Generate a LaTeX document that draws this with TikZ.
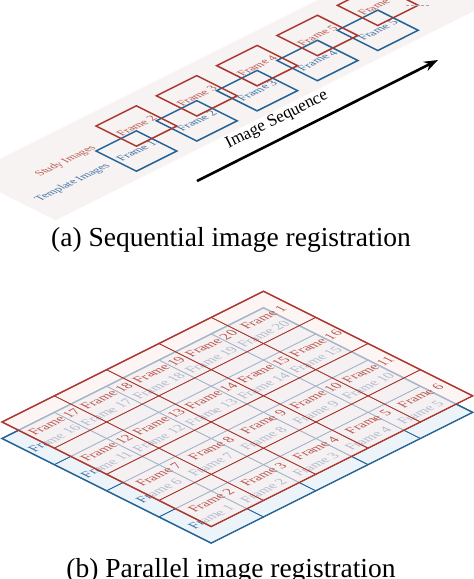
\documentclass[tikz,border=0pt]{standalone}
\usepackage{fontspec}
\setmainfont{Liberation Serif}
\usetikzlibrary{arrows.meta}
\definecolor{redline}{RGB}{168,56,48}
\definecolor{blueline}{RGB}{36,100,150}
\definecolor{redtext}{RGB}{184,82,72}
\definecolor{bluetext}{RGB}{58,108,160}
\definecolor{bandcol}{RGB}{247,243,243}
\definecolor{redfill}{RGB}{252,238,236}
\definecolor{bluefill}{RGB}{236,243,249}
\tikzset{
  framebox/.style={draw, line width=1.5pt, minimum size=45.2pt, inner sep=0pt,
    transform shape, font=\fontsize{12}{13}\selectfont},
  redframe/.style={framebox, draw=redline, text=redtext},
  blueframe/.style={framebox, draw=blueline, text=bluetext},
  sidelab/.style={transform shape, inner sep=0pt, anchor=west, font=\fontsize{11.5}{13}\selectfont},
  gridcell/.style={draw, line width=0.7pt, minimum size=58.5pt, inner sep=0pt,
    transform shape, font=\fontsize{13.8}{15}\selectfont},
  caption/.style={anchor=base, inner sep=0pt, font=\fontsize{27.5}{30}\selectfont},
  plane/.style={cm={0.894,0.447,-0.894,0.447,#1}}
}
\begin{document}
\begin{tikzpicture}[x=1pt,y=1pt]
\useasboundingbox (0,0) rectangle (474,-579);

% ---------- (a) sequential ----------
\begin{scope}[plane={(96,-151)}]
  \fill[bandcol] (-100,-55) rectangle (480,45);
  \foreach \k in {1,...,5}
    \node[blueframe] (b\k) at ({(\k-1)*67.5+22.6},-22.6) {Frame \k};
  \node[sidelab, text=bluetext] (tmpl) at (-88,-22.6) {Template Images};
\end{scope}
\begin{scope}[plane={(96,-126)}]
  \foreach \k in {2,...,6}
    \node[redframe] (r\k) at ({(\k-2)*67.5+22.6},-22.6) {Frame \k};
  \node[sidelab, text=redtext] (study) at (-88,-22.6) {Study Images};
\end{scope}
\coordinate (dotA) at (406,-5);
\coordinate (dotB) at (429,-5);
\draw[gray!70, line width=1pt, dash pattern=on 2.5pt off 2.5pt] (dotA) -- (dotB);

\coordinate (arrS) at (197,-181);
\coordinate (arrT) at (438,-60);
\draw[line width=2.6pt, -{Stealth[length=14pt,width=10pt]}] (arrS) -- (arrT);
\node[rotate=26.66, inner sep=0pt, font=\fontsize{17}{19}\selectfont] (seq) at (277,-120) {Image Sequence};

\node[caption] (capa) at (231,-246) {(a) Sequential image registration};

% ---------- (b) parallel ----------
\begin{scope}[plane={(2,-438.5)}]
  \fill[bluefill] (0,0) rectangle (292.5,-234);
  \foreach \i in {0,...,4}{
    \foreach \j in {0,...,3}{
      \pgfmathtruncatemacro{\bn}{16-5*\j+\i}
      \node[gridcell, draw=blueline, text=bluetext] (bc-\i-\j) at ({(\i+0.5)*58.5},{-(\j+0.5)*58.5}) {Frame \bn};
    }}
  \draw[blueline, line width=1.4pt] (0,0) rectangle (292.5,-234);
\end{scope}
\begin{scope}[plane={(2,-422)}]
  \fill[redfill, fill opacity=0.6] (0,0) rectangle (292.5,-234);
  \foreach \i in {0,...,4}{
    \foreach \j in {0,...,3}{
      \pgfmathtruncatemacro{\rn}{mod(16-5*\j+\i,20)+1}
      \node[gridcell, draw=redline, text=redtext] (rc-\i-\j) at ({(\i+0.5)*58.5},{-(\j+0.5)*58.5}) {Frame \rn};
    }}
  \draw[redline, line width=1.4pt] (0,0) rectangle (292.5,-234);
\end{scope}

\node[caption] (capb) at (231,-577) {(b) Parallel image registration};
\end{tikzpicture}
\end{document}
